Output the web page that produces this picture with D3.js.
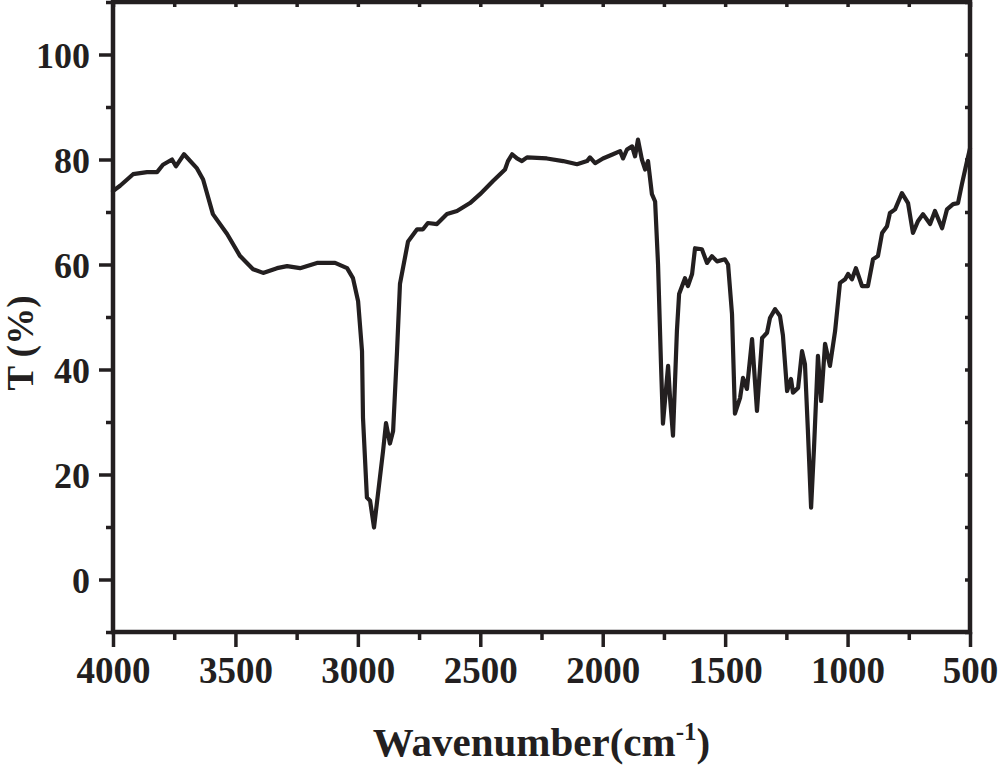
<!DOCTYPE html>
<html>
<head>
<meta charset="utf-8">
<script src="https://cdn.jsdelivr.net/npm/d3@7"></script>
<style>
  body { margin: 0; background: #fff; }
  svg text { font-family: "Liberation Serif", "Times New Roman", serif; font-weight: bold; fill: #231f20; }
  .axis path, .axis line { stroke: #231f20; }
</style>
</head>
<body>
<div id="chart"></div>
<script>
// FTIR spectrum
var wavenumber = [4000, 3971, 3918, 3861, 3820, 3796, 3759, 3743, 3710, 3657, 3632, 3592, 3534, 3481, 3428, 3387,
    3330, 3289, 3236, 3167, 3093, 3044, 3020, 2999, 2983, 2979, 2963, 2950, 2934, 2910, 2897, 2885, 2869, 2856,
    2840, 2828, 2795, 2758, 2734, 2714, 2677, 2636, 2595, 2542, 2501, 2448, 2399, 2387, 2370, 2350, 2330, 2309,
    2228, 2162, 2105, 2064, 2052, 2031, 1999, 1958, 1929, 1917, 1901, 1880, 1868, 1856, 1840, 1827, 1815, 1799,
    1786, 1774, 1762, 1754, 1733, 1725, 1713, 1697, 1688, 1664, 1652, 1635, 1623, 1595, 1574, 1554, 1533, 1501,
    1488, 1472, 1460, 1439, 1427, 1411, 1390, 1370, 1349, 1329, 1317, 1296, 1276, 1264, 1247, 1231, 1223, 1202,
    1186, 1174, 1162, 1149, 1137, 1121, 1108, 1092, 1072, 1051, 1031, 1010, 998, 982, 966, 941, 917, 896, 876,
    859, 839, 827, 806, 778, 753, 733, 712, 692, 663, 643, 614, 594, 569, 549, 533, 512, 500];
var transmittance = [74, 75, 77.2, 77.6, 77.6, 79, 80, 78.7, 81, 78.3, 76.2, 69.6, 65.8, 61.6, 59.1, 58.4,
    59.3, 59.7, 59.3, 60.3, 60.3, 59.3, 57.4, 53, 43.5, 30.8, 15.6, 15, 9.9, 19.4, 24.5, 29.8, 25.9, 28.3,
    43.5, 56.3, 64.4, 66.7, 66.7, 67.9, 67.7, 69.6, 70.2, 71.7, 73.4, 75.9, 78.1, 79.7, 81, 80.2, 79.7, 80.4,
    80.2, 79.7, 79.1, 79.7, 80.4, 79.3, 80.2, 81, 81.6, 80.2, 81.9, 82.5, 80.6, 83.8, 80, 78.1, 79.7, 73.4,
    72, 60, 41, 29.7, 40.7, 34.6, 27.4, 47.3, 54.4, 57.4, 55.9, 58.2, 63.1, 62.9, 60.3, 61.6, 60.6, 61,
    60, 50.6, 31.6, 34.6, 38.4, 36.3, 45.8, 32.1, 46, 47, 49.8, 51.5, 50.2, 46.5, 35.9, 38.2, 35.6, 36.5,
    43.5, 41, 28.3, 13.7, 25.1, 42.6, 34, 44.9, 40.7, 47.3, 56.5, 57.2, 58.2, 57.2, 59.3, 55.9, 55.9, 61, 61.6,
    66, 67.3, 69.8, 70.5, 73.6, 71.7, 66, 68.3, 69.6, 67.7, 70.2, 66.9, 70.5, 71.5, 71.7, 75.3, 79.7, 82.1];

var xTicks = [4000, 3500, 3000, 2500, 2000, 1500, 1000, 500];
var yTicks = [0, 20, 40, 60, 80, 100];

var WIDTH = 1000, HEIGHT = 766;
var margin = { top: 2, right: 30, bottom: 134, left: 113 };
var INK = "#231f20";

var svg = d3.select("#chart").append("svg")
    .attr("width", WIDTH)
    .attr("height", HEIGHT);

var x = d3.scaleLinear().domain([4000, 500]).range([margin.left, WIDTH - margin.right]);
var y = d3.scaleLinear().domain([-10, 110]).range([HEIGHT - margin.bottom, margin.top]);

var xMinor = d3.range(3750, 500, -500);
var yMinor = d3.range(-10, 111, 20);

// minor ticks first, majors drawn on top
function minorAxis(axis, g, ticks, len) {
    g.call(axis.tickValues(ticks).tickSize(len).tickFormat(""));
    g.select(".domain").remove();
    g.selectAll("line").attr("stroke-width", 3.5);
}

var gxMinor = svg.append("g").attr("class", "axis")
    .attr("transform", "translate(0," + y(-10) + ")");
minorAxis(d3.axisBottom(x), gxMinor, xMinor, 8);

var gyMinor = svg.append("g").attr("class", "axis")
    .attr("transform", "translate(" + x(4000) + ",0)");
minorAxis(d3.axisLeft(y), gyMinor, yMinor, 7);

// top and right: small inward ticks
var gTop = svg.append("g").attr("class", "axis")
    .attr("transform", "translate(0," + y(110) + ")");
minorAxis(d3.axisBottom(x), gTop, xTicks.concat(xMinor), 5);

var gRight = svg.append("g").attr("class", "axis")
    .attr("transform", "translate(" + x(500) + ",0)");
minorAxis(d3.axisLeft(y), gRight, yTicks.concat(yMinor), 5);

var gx = svg.append("g").attr("class", "axis")
    .attr("transform", "translate(0," + y(-10) + ")")
    .call(d3.axisBottom(x).tickValues(xTicks).tickSize(15).tickSizeOuter(0).tickPadding(10).tickFormat(d3.format("d")));
gx.select(".domain").remove();
gx.selectAll("line").attr("stroke-width", 3.5);
gx.selectAll("text").attr("font-size", 37).attr("dy", "0.71em");

var gy = svg.append("g").attr("class", "axis")
    .attr("transform", "translate(" + x(4000) + ",0)")
    .call(d3.axisLeft(y).tickValues(yTicks).tickSize(14).tickSizeOuter(0).tickPadding(9));
gy.select(".domain").remove();
gy.selectAll("line").attr("stroke-width", 3.5);
gy.selectAll("text").attr("font-size", 36).attr("dy", "0.35em");

// frame
svg.append("rect")
    .attr("x", x(4000))
    .attr("y", y(110))
    .attr("width", x(500) - x(4000))
    .attr("height", y(-10) - y(110))
    .attr("fill", "none")
    .attr("stroke", INK)
    .attr("stroke-width", 4.5);

// spectrum
var points = wavenumber.map(function(w, i) { return [w, transmittance[i]]; });
var line = d3.line()
    .x(function(d) { return x(d[0]); })
    .y(function(d) { return y(d[1]); });

svg.append("path")
    .datum(points)
    .attr("d", line)
    .attr("fill", "none")
    .attr("stroke", INK)
    .attr("stroke-width", 4.2)
    .attr("stroke-linejoin", "round")
    .attr("stroke-linecap", "round");

// axis titles
var xTitle = svg.append("text")
    .attr("x", (x(4000) + x(500)) / 2)
    .attr("y", 756)
    .attr("text-anchor", "middle")
    .attr("font-size", 41);
xTitle.append("tspan").text("Wavenumber(cm");
xTitle.append("tspan").attr("font-size", 25).attr("dy", -16).text("-1");
xTitle.append("tspan").attr("dy", 16).text(")");

svg.append("text")
    .attr("transform", "translate(33,343) rotate(-90)")
    .attr("text-anchor", "middle")
    .attr("font-size", 37)
    .text("T (%)");
</script>
</body>
</html>
